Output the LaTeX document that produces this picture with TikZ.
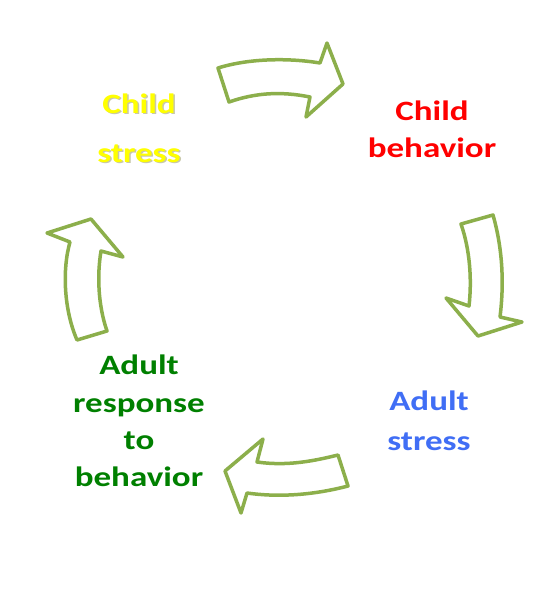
\documentclass[tikz,border=0pt]{standalone}
\usepackage{fontspec}
\setmainfont{Carlito}
\definecolor{arrowgreen}{RGB}{140,175,75}
\definecolor{cyellow}{RGB}{255,255,0}
\definecolor{cshadow}{RGB}{200,200,170}
\definecolor{cred}{RGB}{255,0,0}
\definecolor{cblue}{RGB}{64,110,245}
\definecolor{cgreen}{RGB}{0,128,0}
\begin{document}
\begin{tikzpicture}[x=1pt,y=-1pt,
  lbl/.style={align=center,inner sep=0pt,transform shape,font=\bfseries\fontsize{28}{37}\selectfont},
  cyclearrow/.style={draw=arrowgreen,line width=3.5pt,line join=round,fill=white}]
\useasboundingbox[fill=white] (0,0) rectangle (552,600);
% labels (text is horizontally stretched in the reference)
\begin{scope}[shift={(139,128)},xscale=1.25]
\node[lbl,text=cshadow,font=\bfseries\fontsize{28}{49}\selectfont] (css) at (1.2,1.5) {Child\\stress};
\node[lbl,text=cyellow,font=\bfseries\fontsize{28}{49}\selectfont] (cs) at (0,0) {Child\\stress};
\end{scope}
\begin{scope}[shift={(432,129)},xscale=1.25]
\node[lbl,text=cred] (cb) at (0,0) {Child\\behavior};
\end{scope}
\begin{scope}[shift={(429,421)},xscale=1.25]
\node[lbl,text=cblue,font=\bfseries\fontsize{28}{40}\selectfont] (as) at (0,0) {Adult\\stress};
\end{scope}
\begin{scope}[shift={(139,421)},xscale=1.25]
\node[lbl,text=cgreen,font=\bfseries\fontsize{28}{37.3}\selectfont] (ar) at (0,0) {Adult\\response\\to\\behavior};
\end{scope}
% block arrows
\draw[cyclearrow] (218,68) .. controls (250,58) and (290,58) .. (320,63) -- (327,43) -- (343,84) -- (306,117) -- (310,97) .. controls (280,91) and (255,93) .. (229,102) -- cycle;
\draw[cyclearrow] (461,224) -- (493,215) .. controls (503,250) and (504,285) .. (500,317) -- (522,322) -- (478,336) -- (446,298) -- (469,306) .. controls (472,280) and (470,250) .. (461,224) -- cycle;
\draw[cyclearrow] (338,455) -- (348,486) .. controls (310,496) and (275,497) .. (247,493) -- (241,513) -- (225,471) -- (263,439) -- (257,462) .. controls (285,466) and (310,462) .. (338,455) -- cycle;
\draw[cyclearrow] (77,340) -- (107,331) .. controls (98,305) and (97,275) .. (101,251) -- (123,257) -- (91,219) -- (47,233) -- (70,242) .. controls (62,270) and (64,310) .. (77,340) -- cycle;
\end{tikzpicture}
\end{document}
